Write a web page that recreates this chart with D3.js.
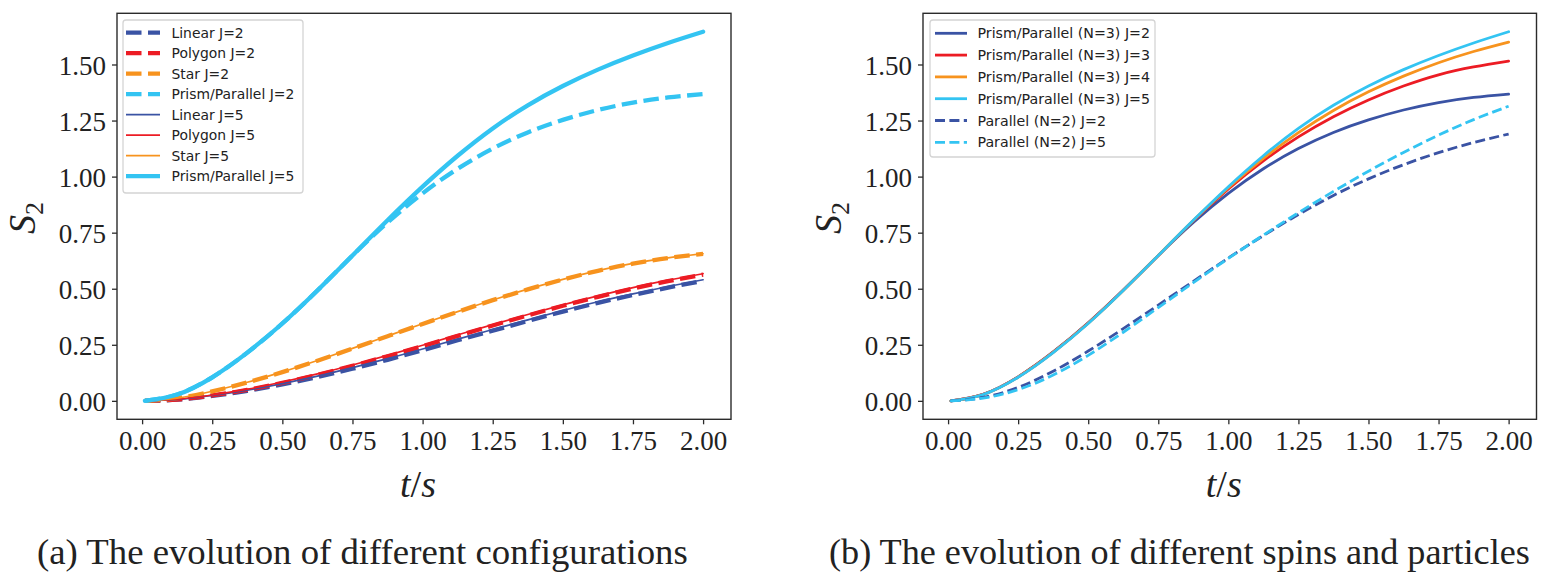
<!DOCTYPE html>
<html><head><meta charset="utf-8">
<script src="https://cdn.jsdelivr.net/npm/d3@7"></script>
<style>
body{margin:0;background:#fff;}
svg{display:block;}
</style></head>
<body>
<svg id="c" width="1550" height="574"></svg>
<script>
// ---------- data ----------
const T = [0.01, 0.125, 0.25, 0.375, 0.5, 0.625, 0.75, 0.875, 1.0, 1.125, 1.25, 1.375, 1.5, 1.625, 1.75, 1.875, 2.0];

// panel (a)
const linearJ2  = [0, 0.005, 0.022, 0.045, 0.073, 0.106, 0.143, 0.183, 0.226, 0.270, 0.313, 0.356, 0.398, 0.437, 0.472, 0.505, 0.535];
const polygonJ2 = [0, 0.006, 0.024, 0.049, 0.080, 0.116, 0.156, 0.199, 0.244, 0.290, 0.336, 0.381, 0.424, 0.464, 0.501, 0.534, 0.563];
const starJ2    = [0, 0.012, 0.042, 0.082, 0.128, 0.179, 0.233, 0.288, 0.343, 0.397, 0.449, 0.497, 0.541, 0.580, 0.612, 0.637, 0.655];
const prismJ2   = [0, 0.028, 0.105, 0.215, 0.345, 0.492, 0.648, 0.795, 0.925, 1.035, 1.125, 1.197, 1.253, 1.297, 1.330, 1.353, 1.368];
const linearJ5  = [0, 0.006, 0.024, 0.048, 0.077, 0.110, 0.148, 0.188, 0.231, 0.275, 0.318, 0.361, 0.403, 0.442, 0.477, 0.510, 0.540];
const polygonJ5 = [0, 0.007, 0.026, 0.052, 0.084, 0.120, 0.160, 0.203, 0.248, 0.294, 0.340, 0.385, 0.428, 0.468, 0.505, 0.538, 0.567];
const starJ5    = [0, 0.012, 0.043, 0.083, 0.129, 0.180, 0.234, 0.289, 0.344, 0.398, 0.450, 0.498, 0.542, 0.581, 0.613, 0.638, 0.656];
const prismJ5   = [0, 0.028, 0.105, 0.215, 0.345, 0.492, 0.648, 0.805, 0.955, 1.093, 1.215, 1.318, 1.404, 1.477, 1.540, 1.596, 1.646];

// panel (b)
const n3J2 = [0, 0.029, 0.107, 0.218, 0.348, 0.494, 0.648, 0.795, 0.925, 1.035, 1.125, 1.197, 1.253, 1.297, 1.330, 1.353, 1.368];
const n3J3 = [0, 0.029, 0.107, 0.217, 0.347, 0.493, 0.648, 0.803, 0.945, 1.070, 1.177, 1.267, 1.342, 1.404, 1.454, 1.489, 1.515];
const n3J4 = [0, 0.028, 0.106, 0.216, 0.346, 0.492, 0.648, 0.804, 0.950, 1.081, 1.196, 1.295, 1.378, 1.448, 1.508, 1.558, 1.600];
const n3J5 = [0, 0.028, 0.105, 0.215, 0.345, 0.492, 0.648, 0.805, 0.955, 1.093, 1.215, 1.318, 1.404, 1.477, 1.540, 1.596, 1.646];
const n2J2 = [0, 0.015, 0.060, 0.132, 0.222, 0.322, 0.427, 0.533, 0.637, 0.737, 0.831, 0.916, 0.990, 1.053, 1.107, 1.152, 1.190];
const n2J5 = [0, 0.012, 0.050, 0.115, 0.203, 0.306, 0.416, 0.527, 0.635, 0.739, 0.839, 0.934, 1.024, 1.108, 1.185, 1.254, 1.314];

const xTicks = [0, 0.25, 0.5, 0.75, 1.0, 1.25, 1.5, 1.75, 2.0];
const yTicks = [0, 0.25, 0.5, 0.75, 1.0, 1.25, 1.5];

const labelsA = ["Linear J=2","Polygon J=2","Star J=2","Prism/Parallel J=2","Linear J=5","Polygon J=5","Star J=5","Prism/Parallel J=5"];
const labelsB = ["Prism/Parallel (N=3) J=2","Prism/Parallel (N=3) J=3","Prism/Parallel (N=3) J=4","Prism/Parallel (N=3) J=5","Parallel (N=2) J=2","Parallel (N=2) J=5"];
const captionA = "(a) The evolution of different configurations";
const captionB = "(b) The evolution of different spins and particles";

// ---------- styling ----------
const BLUE="#3a53a4", RED="#ec1c24", ORANGE="#f7931e", CYAN="#33c4f2";
const TW = 4.3, TD = "15.5,6.5";
const seriesA = [
  {v:linearJ2, c:BLUE, w:TW, d:TD},
  {v:polygonJ2, c:RED, w:TW, d:TD},
  {v:starJ2, c:ORANGE, w:TW, d:TD},
  {v:prismJ2, c:CYAN, w:TW, d:TD},
  {v:linearJ5, c:BLUE, w:1.7, d:null},
  {v:polygonJ5, c:RED, w:1.7, d:null},
  {v:starJ5, c:ORANGE, w:1.7, d:null},
  {v:prismJ5, c:CYAN, w:4.3, d:null}
];
const seriesB = [
  {v:n3J2, c:BLUE, w:2.8, d:null},
  {v:n3J3, c:RED, w:2.8, d:null},
  {v:n3J4, c:ORANGE, w:2.8, d:null},
  {v:n3J5, c:CYAN, w:2.8, d:null},
  {v:n2J2, c:BLUE, w:2.8, d:"10,4.4"},
  {v:n2J5, c:CYAN, w:2.8, d:"10,4.4"}
];
seriesA.forEach((s,i)=>s.label=labelsA[i]);
seriesB.forEach((s,i)=>s.label=labelsB[i]);

const svg = d3.select("#c");
const SERIF = "'Liberation Serif','DejaVu Serif',serif";
const SANS = "'DejaVu Sans','Liberation Sans',sans-serif";

function fitText(sel, target){
  const n = sel.node();
  const fs = parseFloat(sel.attr("font-size"));
  const w = n.getComputedTextLength();
  if (w>0) sel.attr("font-size", fs*target/w);
}

function panel(opt){
  const x = d3.scaleLinear().domain([-0.0895, 2.0995]).range([opt.left, opt.right]);
  const y = d3.scaleLinear().domain([-0.0823, 1.7283]).range([419.3, 13.3]);
  const g = svg.append("g");

  const line = d3.line().x((d,i)=>x(T[i])).y(d=>y(d)).curve(d3.curveNatural);
  opt.series.forEach(s=>{
    g.append("path").attr("d", line(s.v)).attr("fill","none")
      .attr("stroke", s.c).attr("stroke-width", s.w)
      .attr("stroke-dasharray", s.d)
      .attr("stroke-linecap", s.d ? "butt" : "round");
  });

  g.append("rect").attr("x",opt.left).attr("y",13.3).attr("width",opt.right-opt.left).attr("height",419.3-13.3)
    .attr("fill","none").attr("stroke","#2b2b2b").attr("stroke-width",1.4);

  const xa = g.append("g").attr("transform","translate(0,419.3)")
    .call(d3.axisBottom(x).tickValues(xTicks).tickFormat(d3.format(".2f")).tickSize(5).tickPadding(6));
  xa.select(".domain").remove();
  xa.selectAll("line").attr("stroke","#2b2b2b").attr("stroke-width",1.3);
  xa.selectAll("text").attr("font-family",SERIF).attr("font-size",27).attr("fill","#222").attr("dy","0.72em");

  const ya = g.append("g").attr("transform",`translate(${opt.left},0)`)
    .call(d3.axisLeft(y).tickValues(yTicks).tickFormat(d3.format(".2f")).tickSize(5).tickPadding(6));
  ya.select(".domain").remove();
  ya.selectAll("line").attr("stroke","#2b2b2b").attr("stroke-width",1.3);
  ya.selectAll("text").attr("font-family",SERIF).attr("font-size",27).attr("fill","#222").attr("dy","0.36em");

  const xl = g.append("text").attr("x",(opt.left+opt.right)/2 - 6).attr("y",497)
    .attr("text-anchor","middle").attr("font-family",SERIF).attr("font-size",38).attr("fill","#222");
  xl.append("tspan").attr("font-style","italic").text("t");
  xl.append("tspan").text("/");
  xl.append("tspan").attr("font-style","italic").text("s");

  const yl = g.append("text").attr("transform",`translate(${opt.left-82},218) rotate(-90)`)
    .attr("text-anchor","middle").attr("font-family",SERIF).attr("font-size",38).attr("fill","#222");
  yl.append("tspan").attr("font-style","italic").text("S");
  yl.append("tspan").attr("font-size",26).attr("dy",8).text("2");

  const L = opt.legend;
  const lg = g.append("g");
  lg.append("rect").attr("x",L.x).attr("y",L.y).attr("width",L.w).attr("height",L.h)
    .attr("rx",3).attr("fill","#fff").attr("fill-opacity",0.85).attr("stroke","#d4d4d4").attr("stroke-width",1.3);
  opt.series.forEach((s,i)=>{
    const yy = L.y0 + i*L.dy;
    lg.append("line").attr("x1",L.hx0).attr("x2",L.hx1).attr("y1",yy).attr("y2",yy)
      .attr("stroke",s.c).attr("stroke-width",s.w).attr("stroke-dasharray",s.d);
    lg.append("text").attr("x",L.tx).attr("y",yy).attr("dy","0.36em")
      .attr("font-family",SANS).attr("font-size",L.fs).attr("fill","#222").text(s.label);
  });

  const cap = svg.append("text").attr("x",opt.capX).attr("y",564).attr("font-family",SERIF)
    .attr("font-size",27).attr("fill","#222").text(opt.caption);
  fitText(cap, opt.capW);
}

panel({left:117, right:731, series:seriesA,
  legend:{x:123, y:20, w:180, h:173, y0:32.7, dy:20.5, hx0:126, hx1:160, tx:171.5, fs:13.9},
  caption:captionA, capX:37, capW:651});
panel({left:923, right:1536.5, series:seriesB,
  legend:{x:930, y:20, w:225, h:137, y0:33.3, dy:21.8, hx0:935, hx1:967, tx:977.5, fs:14.2},
  caption:captionB, capX:829, capW:701});
</script>
</body></html>
